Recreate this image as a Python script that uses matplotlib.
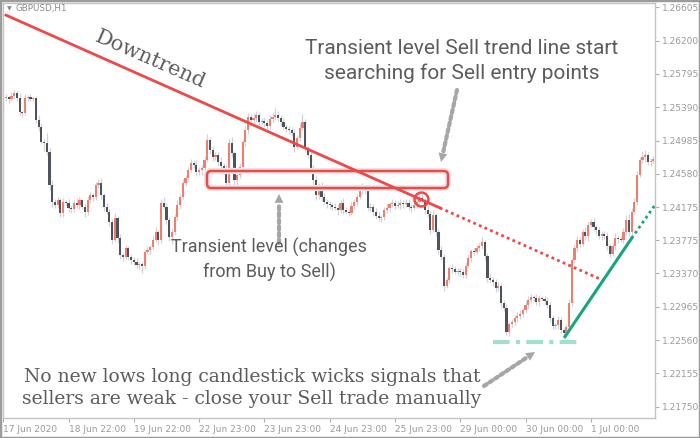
import numpy as np
import matplotlib.pyplot as plt
from matplotlib.patches import FancyBboxPatch, Rectangle

# GBPUSD H1 closes, one per bar (17 Jun 22:00 .. 2 Jul)
closes = [
    1.2550, 1.2551, 1.2549, 1.2553, 1.2556, 1.2550, 1.2533, 1.2532, 1.2550, 1.2551,
    1.2549, 1.2550, 1.2524, 1.2515, 1.2497, 1.2496, 1.2485, 1.2444, 1.2424, 1.2420,
    1.2426, 1.2410, 1.2424, 1.2423, 1.2417, 1.2415, 1.2423, 1.2420, 1.2426, 1.2418,
    1.2412, 1.2426, 1.2432, 1.2430, 1.2444, 1.2447, 1.2432, 1.2418, 1.2412, 1.2399,
    1.2378, 1.2404, 1.2380, 1.2359, 1.2357, 1.2368, 1.2357, 1.2353, 1.2351, 1.2347,
    1.2348, 1.2346, 1.2363, 1.2365, 1.2369, 1.2378, 1.2387, 1.2378, 1.2423, 1.2418,
    1.2402, 1.2381, 1.2387, 1.2405, 1.2420, 1.2430, 1.2447, 1.2453, 1.2463, 1.2471,
    1.2469, 1.2460, 1.2463, 1.2465, 1.2475, 1.2499, 1.2487, 1.2478, 1.2481, 1.2472,
    1.2468, 1.2465, 1.2447, 1.2496, 1.2483, 1.2450, 1.2457, 1.2466, 1.2497, 1.2511,
    1.2527, 1.2524, 1.2526, 1.2530, 1.2521, 1.2522, 1.2520, 1.2516, 1.2525, 1.2527,
    1.2530, 1.2526, 1.2521, 1.2515, 1.2513, 1.2511, 1.2508, 1.2491, 1.2502, 1.2514,
    1.2521, 1.2489, 1.2481, 1.2465, 1.2450, 1.2432, 1.2444, 1.2430, 1.2424, 1.2421,
    1.2420, 1.2418, 1.2417, 1.2414, 1.2423, 1.2414, 1.2412, 1.2411, 1.2419, 1.2424,
    1.2430, 1.2441, 1.2438, 1.2439, 1.2417, 1.2418, 1.2412, 1.2407, 1.2404, 1.2405,
    1.2414, 1.2417, 1.2421, 1.2423, 1.2419, 1.2420, 1.2423, 1.2421, 1.2423, 1.2418,
    1.2417, 1.2420, 1.2424, 1.2429, 1.2426, 1.2414, 1.2409, 1.2390, 1.2408, 1.2387,
    1.2365, 1.2357, 1.2322, 1.2329, 1.2343, 1.2342, 1.2339, 1.2340, 1.2339, 1.2335,
    1.2346, 1.2356, 1.2364, 1.2363, 1.2368, 1.2370, 1.2375, 1.2358, 1.2331, 1.2329,
    1.2327, 1.2319, 1.2322, 1.2301, 1.2295, 1.2266, 1.2275, 1.2278, 1.2283, 1.2285,
    1.2288, 1.2292, 1.2299, 1.2305, 1.2308, 1.2307, 1.2302, 1.2307, 1.2306, 1.2303,
    1.2299, 1.2283, 1.2273, 1.2274, 1.2280, 1.2268, 1.2265, 1.2272, 1.2301, 1.2353,
    1.2368, 1.2378, 1.2373, 1.2387, 1.2382, 1.2396, 1.2399, 1.2393, 1.2390, 1.2382,
    1.2385, 1.2382, 1.2370, 1.2361, 1.2370, 1.2380, 1.2379, 1.2378, 1.2387, 1.2402,
    1.2387, 1.2412, 1.2424, 1.2457, 1.2475, 1.2478, 1.2481, 1.2472, 1.2474, 1.2476,
]
first_open = 1.2538

# wick lengths in pips
upper_wick = [
    3, 4, 2, 5, 4, 3, 6, 2, 5, 3, 4, 2, 3, 5, 4, 3, 12, 4, 6, 3,
    4, 3, 5, 2, 4, 3, 3, 6, 4, 2, 3, 5, 4, 3, 4, 5, 6, 3, 4, 3,
    4, 6, 3, 5, 3, 4, 2, 3, 4, 5, 3, 3, 4, 5, 3, 4, 6, 3, 5, 7,
    4, 3, 5, 4, 6, 3, 5, 4, 3, 5, 4, 6, 3, 4, 5, 8, 4, 5, 3, 4,
    6, 3, 4, 5, 7, 3, 4, 5, 4, 6, 5, 4, 6, 5, 3, 4, 5, 3, 4, 6,
    8, 4, 3, 5, 4, 3, 4, 5, 3, 6, 10, 4, 3, 5, 4, 6, 3, 4, 5, 3,
    4, 3, 5, 4, 3, 6, 4, 3, 5, 4, 3, 4, 6, 3, 5, 4, 3, 4, 5, 3,
    4, 5, 3, 4, 3, 5, 4, 3, 4, 5, 3, 4, 5, 6, 4, 3, 5, 4, 6, 3,
    4, 5, 3, 4, 3, 5, 4, 3, 4, 3, 5, 4, 3, 4, 5, 4, 6, 3, 4, 5,
    4, 3, 5, 3, 4, 5, 3, 4, 3, 5, 4, 3, 4, 5, 4, 3, 5, 4, 3, 4,
    5, 3, 4, 3, 5, 4, 3, 4, 5, 3, 4, 5, 3, 4, 6, 3, 4, 5, 3, 4,
    3, 4, 5, 3, 4, 6, 3, 4, 5, 6, 7, 4, 5, 4, 3, 8, 6, 4, 3, 4,
]
lower_wick = [
    4, 3, 5, 2, 4, 3, 4, 5, 3, 4, 2, 3, 4, 5, 3, 10, 4, 5, 6, 4,
    3, 5, 4, 3, 5, 4, 3, 4, 5, 3, 6, 4, 3, 5, 4, 3, 4, 5, 3, 4,
    5, 3, 6, 4, 5, 3, 4, 5, 4, 3, 5, 9, 4, 3, 5, 4, 3, 6, 4, 3,
    5, 4, 8, 3, 4, 5, 3, 4, 5, 3, 4, 5, 3, 6, 4, 3, 5, 4, 3, 4,
    5, 4, 8, 3, 4, 6, 5, 4, 3, 5, 4, 3, 4, 5, 3, 4, 5, 4, 3, 4,
    3, 4, 5, 3, 4, 5, 4, 6, 3, 4, 3, 5, 4, 3, 5, 6, 4, 5, 3, 4,
    5, 4, 3, 6, 4, 5, 3, 4, 3, 4, 5, 3, 4, 5, 3, 4, 5, 4, 3, 4,
    3, 4, 5, 3, 4, 3, 5, 4, 3, 4, 5, 3, 4, 3, 4, 5, 4, 5, 3, 4,
    5, 4, 6, 3, 4, 5, 3, 4, 5, 3, 4, 3, 5, 4, 3, 4, 3, 5, 4, 3,
    5, 4, 3, 5, 4, 4, 5, 3, 4, 5, 3, 4, 3, 5, 4, 3, 4, 5, 3, 4,
    4, 5, 3, 4, 5, 3, 6, 4, 3, 4, 3, 5, 4, 3, 4, 5, 3, 4, 5, 3,
    4, 3, 5, 4, 3, 4, 5, 3, 4, 3, 4, 5, 3, 4, 3, 4, 5, 3, 4, 3,
]

price_ticks = [1.26605, 1.26200, 1.25795, 1.25390, 1.24985, 1.24580, 1.24175,
               1.23775, 1.23370, 1.22965, 1.22560, 1.22155, 1.21750]
date_ticks = [0, 24, 48, 72, 96, 120, 144, 168, 192, 216]
date_labels = ["17 Jun 2020", "18 Jun 22:00", "19 Jun 22:00", "22 Jun 23:00",
               "23 Jun 23:00", "24 Jun 23:00", "25 Jun 23:00", "29 Jun 00:00",
               "30 Jun 00:00", "1 Jul 00:00"]

# annotation anchors (bar index, price)
trend_start = (1.0, 1.2651)
trend_break = 160.5
trend_end = (221.9, 1.23265)
support_start = (206.5, 1.22601)
support_break = (231.0, 1.23797)
support_end = (239.6, 1.24202)
low_level = 1.22532
low_span = (180.0, 212.0)
zone = (74.9, 163.5, 1.24408, 1.24615)
touch = (153.6, 1.24269)

closes = np.array(closes)
opens = np.concatenate([[first_open], closes[:-1]])
highs = np.maximum(opens, closes) + np.array(upper_wick) / 10000
lows = np.minimum(opens, closes) - np.array(lower_wick) / 10000
x = np.arange(len(closes))

bull = '#f07e6d'
bear = '#4f535c'
red = '#f04848'
green = '#17a57f'
txt = '#5c5c5c'

fig = plt.figure(figsize=(7, 4.38), dpi=100)
fig.patch.set_facecolor('white')
ax = fig.add_axes([3 / 700, 20 / 438, 652 / 700, 415 / 438])
ax.set_xlim(-0.1, 239.6)
ax.set_ylim(1.216123, 1.266573)

ax.vlines(x, lows, highs, color='#d0d3da', lw=0.9, zorder=1)
up = closes >= opens
body = np.maximum(np.abs(closes - opens), 0.0001)
ax.bar(x[up], body[up], bottom=opens[up], width=0.8, color=bull, zorder=2)
ax.bar(x[~up], body[~up], bottom=closes[~up], width=0.8, color=bear, zorder=2)

# downtrend line, solid then dotted
k = (trend_end[1] - trend_start[1]) / (trend_end[0] - trend_start[0])
yb = trend_start[1] + k * (trend_break - trend_start[0])
ax.plot([trend_start[0], trend_break], [trend_start[1], yb], color=red, lw=2, zorder=4)
ax.plot([trend_break, trend_end[0]], [yb, trend_end[1]], color=red, lw=2,
        ls=(0, (1, 1.2)), zorder=4)

# transient level zone
asp = (1 / 8226) / (1 / 2.72)
ax.add_patch(FancyBboxPatch((zone[0], zone[2]), zone[1] - zone[0], zone[3] - zone[2],
                            boxstyle='round,pad=0,rounding_size=1.6', mutation_aspect=asp,
                            fc='none', ec='#e6e6e6', lw=4.5, zorder=3))
ax.add_patch(FancyBboxPatch((zone[0], zone[2]), zone[1] - zone[0], zone[3] - zone[2],
                            boxstyle='round,pad=0,rounding_size=1.6', mutation_aspect=asp,
                            fc='none', ec=red, lw=1.8, zorder=4))
ax.plot(*touch, 'o', ms=10, mfc='none', mec=red, mew=1.8, zorder=5)

# rising support line
ax.plot([support_start[0], support_break[0]], [support_start[1], support_break[1]],
        color=green, lw=2.2, zorder=4)
ax.plot([support_break[0], support_end[0]], [support_break[1], support_end[1]],
        color=green, lw=2, ls=(0, (1, 1.2)), zorder=4)
ax.plot(low_span, [low_level, low_level], color='#a3dfcd', lw=3,
        ls=(0, (4, 1.5, 1, 1.5)), zorder=4)

# axes styling
ax.yaxis.tick_right()
ax.set_yticks(price_ticks)
ax.set_yticklabels([f'{p:.5f}' for p in price_ticks])
ax.set_xticks(date_ticks)
ax.set_xticklabels(date_labels, ha='left')
ax.tick_params(axis='both', colors='#b0b0b0', labelcolor='#9a9a9a', labelsize=6.5,
               length=3, width=0.8, pad=2)
for s in ax.spines.values():
    s.set_color('#c4c4c4')
    s.set_linewidth(1)

# arrows (figure pixel coordinates, origin bottom-left)
arrow_color = '#a6a6a6'
for tail, head in [((457, 348), (441, 276)), ((279, 195), (279, 244)), ((484, 52), (535, 86))]:
    ax.annotate('', xy=head, xytext=tail, xycoords='figure pixels',
                textcoords='figure pixels',
                arrowprops=dict(arrowstyle='-', color=arrow_color, lw=3,
                                linestyle=(0, (0.8, 0.8)), shrinkA=0, shrinkB=8))
    ax.annotate('', xy=head, xytext=(head[0] + (tail[0] - head[0]) * 0.2,
                                     head[1] + (tail[1] - head[1]) * 0.2),
                xycoords='figure pixels', textcoords='figure pixels',
                arrowprops=dict(arrowstyle='-|>', color=arrow_color, lw=0,
                                mutation_scale=16, shrinkA=0, shrinkB=0))

# texts
fig.text(7 / 700, 1 - 9 / 438, '\u25BC', fontsize=4.5, color='#8a8a8a', va='center')
fig.text(15 / 700, 1 - 9 / 438, 'GBPUSD,H1', fontsize=6.3, color='#8a8a8a', va='center')
fig.text(150 / 700, 1 - 60 / 438, 'Downtrend', fontsize=15, family='DejaVu Serif',
         color=txt, rotation=-23.6, ha='center', va='center', rotation_mode='anchor')
fig.text(462 / 700, 1 - 61 / 438,
         'Transient level Sell trend line start\nsearching for Sell entry points',
         fontsize=15, family='Roboto', color=txt, ha='center', va='center',
         linespacing=1.3)
fig.text(269 / 700, 1 - 260 / 438, 'Transient level (changes\nfrom Buy to Sell)',
         fontsize=13, family='Roboto', color=txt, ha='center', va='center',
         linespacing=1.35)
fig.text(252 / 700, 1 - 388 / 438,
         'No new lows long candlestick wicks signals that\n'
         'sellers are weak - close your Sell trade manually',
         fontsize=13.5, family='DejaVu Serif', color=txt, ha='center', va='center',
         linespacing=1.25)

fig.add_artist(Rectangle((0, 0), 1, 1, transform=fig.transFigure, fill=False,
                         ec='#9c9c9c', lw=2.5))

fig.savefig('out.png', dpi=100)
